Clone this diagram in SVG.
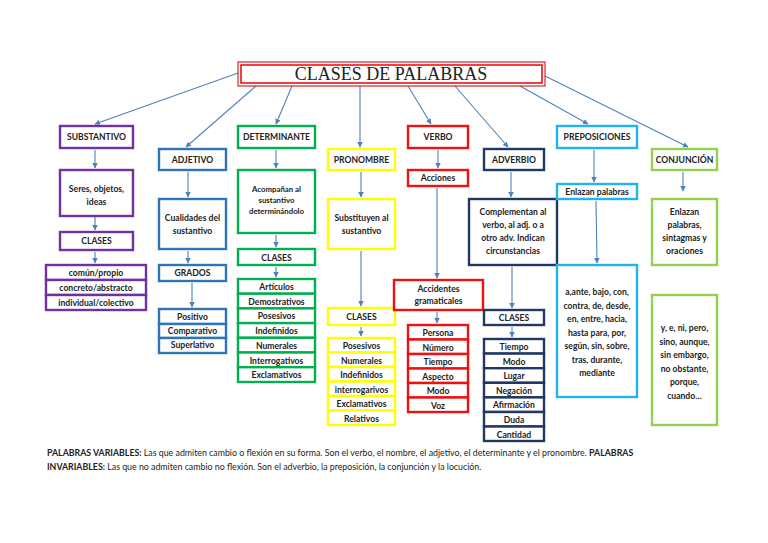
<svg xmlns="http://www.w3.org/2000/svg" width="768" height="543" viewBox="0 0 768 543">
<defs>
<marker id="ah" viewBox="0 0 10 10" refX="9" refY="5" markerWidth="5" markerHeight="5" orient="auto"><path d="M0,0L10,5L0,10z" fill="#4f81bd"/></marker>
<style>
text{font-family:Lato,"Liberation Sans",sans-serif;font-size:8.6px;font-weight:bold;fill:#222;text-anchor:middle}
.b{fill:#fff;stroke-width:2.4}
.pu{stroke:#7030a0}.bl{stroke:#2e75b6}.gr{stroke:#00b050}.ye{stroke:#ffff00}.re{stroke:#ee1111}.nv{stroke:#1f3864}.sk{stroke:#1fb4ee}.lg{stroke:#92d050}
#conn line{stroke:#4f81bd;stroke-width:1.1;marker-end:url(#ah)}
.n{font-weight:normal;text-anchor:start;font-size:8.8px}
</style>
</defs>
<rect width="768" height="543" fill="#fff"/>
<g id="conn">
<line x1="238" y1="73" x2="95" y2="124"/>
<line x1="256" y1="86" x2="186" y2="147"/>
<line x1="292" y1="86" x2="276" y2="124"/>
<line x1="360" y1="86" x2="360" y2="147"/>
<line x1="408" y1="86" x2="431" y2="124"/>
<line x1="455" y1="86" x2="508" y2="147"/>
<line x1="520" y1="86" x2="588" y2="124"/>
<line x1="545" y1="76" x2="688" y2="147"/>
<line x1="95" y1="150" x2="95" y2="168"/>
<line x1="95" y1="217" x2="95" y2="230"/>
<line x1="95" y1="252" x2="95" y2="263"/>
<line x1="188" y1="172" x2="188" y2="197"/>
<line x1="188" y1="251" x2="188" y2="263"/>
<line x1="192" y1="283" x2="192" y2="307"/>
<line x1="276" y1="150" x2="276" y2="168"/>
<line x1="276" y1="235" x2="276" y2="247"/>
<line x1="276" y1="267" x2="276" y2="277"/>
<line x1="361" y1="172" x2="361" y2="197"/>
<line x1="361" y1="251" x2="361" y2="306"/>
<line x1="361" y1="327" x2="361" y2="336"/>
<line x1="438" y1="150" x2="438" y2="168"/>
<line x1="437" y1="188" x2="437" y2="278"/>
<line x1="437" y1="312" x2="437" y2="323"/>
<line x1="511" y1="172" x2="511" y2="197"/>
<line x1="512" y1="267" x2="512" y2="308"/>
<line x1="512" y1="327" x2="512" y2="337"/>
<line x1="594" y1="150" x2="594" y2="182"/>
<line x1="596" y1="201" x2="597" y2="263"/>
<line x1="683" y1="172" x2="683" y2="191"/>
</g>
<g id="title"><rect x="238" y="62" width="307" height="24" fill="#fff" stroke="#c00000" stroke-width="1"/><rect x="241" y="65" width="301" height="18" fill="none" stroke="#e00" stroke-width="1.5"/><text x="391" y="80" style="font-family:'Liberation Serif',serif;font-size:18px;font-weight:normal">CLASES DE PALABRAS</text></g>

<g id="substantivo">
<rect class="b pu" x="60" y="126" width="73" height="22"/><text x="96.5" y="140">SUBSTANTIVO</text>
<rect class="b pu" x="60" y="170" width="73" height="46"/><text x="96.5" y="192">Seres, objetos,</text><text x="96.5" y="205">ideas</text>
<rect class="b pu" x="60" y="232" width="73" height="18"/><text x="96.5" y="244">CLASES</text>
<rect class="b pu" x="46" y="265" width="100" height="15"/><rect class="b pu" x="46" y="280" width="100" height="15"/><rect class="b pu" x="46" y="295" width="100" height="15"/>
<text x="96" y="276">común/propio</text><text x="96" y="291">concreto/abstracto</text><text x="96" y="306">individual/colectivo</text>
</g>

<g id="adjetivo">
<rect class="b bl" x="159" y="149" width="67" height="21"/><text x="192.5" y="163">ADJETIVO</text>
<rect class="b bl" x="159" y="199" width="67" height="50"/><text x="192.5" y="221">Cualidades del</text><text x="192.5" y="234">sustantivo</text>
<rect class="b bl" x="159" y="265" width="67" height="16"/><text x="192.5" y="276">GRADOS</text>
<rect class="b bl" x="159" y="309" width="67" height="15"/><rect class="b bl" x="159" y="324" width="67" height="14"/><rect class="b bl" x="159" y="338" width="67" height="15"/>
<text x="192.5" y="320">Positivo</text><text x="192.5" y="334">Comparativo</text><text x="192.5" y="348">Superlativo</text>
</g>

<g id="determinante">
<rect class="b gr" x="238" y="126" width="77" height="22"/><text x="276.5" y="140">DETERMINANTE</text>
<rect class="b gr" x="238" y="170" width="77" height="63"/><text x="276.5" y="192" style="font-size:7.8px">Acompañan al</text><text x="276.5" y="203" style="font-size:7.8px">sustantivo</text><text x="276.5" y="214" style="font-size:7.8px">determinándolo</text>
<rect class="b gr" x="238" y="249" width="77" height="16"/><text x="276.5" y="261">CLASES</text>
<rect class="b gr" x="238" y="279" width="77" height="14.7"/><rect class="b gr" x="238" y="293.7" width="77" height="14.7"/><rect class="b gr" x="238" y="308.4" width="77" height="14.7"/><rect class="b gr" x="238" y="323.1" width="77" height="14.7"/><rect class="b gr" x="238" y="337.8" width="77" height="14.7"/><rect class="b gr" x="238" y="352.5" width="77" height="14.7"/><rect class="b gr" x="238" y="367.2" width="77" height="14.8"/>
<text x="276.5" y="290">Artículos</text><text x="276.5" y="304.7">Demostrativos</text><text x="276.5" y="319.4">Posesivos</text><text x="276.5" y="334.1">Indefinidos</text><text x="276.5" y="348.8">Numerales</text><text x="276.5" y="363.5">Interrogativos</text><text x="276.5" y="378.2">Exclamativos</text>
</g>

<g id="pronombre">
<rect class="b ye" x="328" y="149" width="67" height="21"/><text x="361.5" y="163">PRONOMBRE</text>
<rect class="b ye" x="328" y="199" width="67" height="50"/><text x="361.5" y="221">Substituyen al</text><text x="361.5" y="234">sustantivo</text>
<rect class="b ye" x="328" y="308" width="67" height="17"/><text x="361.5" y="320">CLASES</text>
<rect class="b ye" x="328" y="338" width="67" height="14.5"/><rect class="b ye" x="328" y="352.5" width="67" height="14.5"/><rect class="b ye" x="328" y="367" width="67" height="14.5"/><rect class="b ye" x="328" y="381.5" width="67" height="14.5"/><rect class="b ye" x="328" y="396" width="67" height="14.5"/><rect class="b ye" x="328" y="410.5" width="67" height="14.5"/>
<text x="361.5" y="349">Posesivos</text><text x="361.5" y="363.5">Numerales</text><text x="361.5" y="378">Indefinidos</text><text x="361.5" y="392.5">interrogarivos</text><text x="361.5" y="407">Exclamativos</text><text x="361.5" y="421.5">Relativos</text>
</g>

<g id="verbo">
<rect class="b re" x="408" y="126" width="60" height="22"/><text x="438" y="140">VERBO</text>
<rect class="b re" x="408" y="170" width="60" height="16"/><text x="438" y="181">Acciones</text>
<rect class="b re" x="394" y="280" width="89" height="30"/><text x="438.5" y="292">Accidentes</text><text x="438.5" y="304">gramaticales</text>
<rect class="b re" x="408" y="325" width="60" height="14.5"/><rect class="b re" x="408" y="339.5" width="60" height="14.5"/><rect class="b re" x="408" y="354" width="60" height="14.5"/><rect class="b re" x="408" y="368.5" width="60" height="14.5"/><rect class="b re" x="408" y="383" width="60" height="14.5"/><rect class="b re" x="408" y="397.5" width="60" height="14.5"/>
<text x="438" y="336">Persona</text><text x="438" y="350.5">Número</text><text x="438" y="365">Tiempo</text><text x="438" y="379.5">Aspecto</text><text x="438" y="394">Modo</text><text x="438" y="408.5">Voz</text>
</g>

<g id="adverbio">
<rect class="b nv" x="484" y="149" width="60" height="21"/><text x="514" y="163">ADVERBIO</text>
<rect class="b nv" x="469" y="199" width="88" height="66"/><text x="513" y="215">Complementan al</text><text x="513" y="228">verbo, al adj.  o a</text><text x="513" y="241">otro adv. Indican</text><text x="513" y="254">circunstancias</text>
<rect class="b nv" x="484" y="310" width="60" height="15"/><text x="514" y="321">CLASES</text>
<rect class="b nv" x="484" y="339" width="60" height="14.6"/><rect class="b nv" x="484" y="353.6" width="60" height="14.6"/><rect class="b nv" x="484" y="368.2" width="60" height="14.6"/><rect class="b nv" x="484" y="382.8" width="60" height="14.6"/><rect class="b nv" x="484" y="397.4" width="60" height="14.6"/><rect class="b nv" x="484" y="412" width="60" height="14.5"/><rect class="b nv" x="484" y="426.5" width="60" height="14.5"/>
<text x="514" y="350">Tiempo</text><text x="514" y="364.6">Modo</text><text x="514" y="379.2">Lugar</text><text x="514" y="393.8">Negación</text><text x="514" y="408.4">Afirmación</text><text x="514" y="423">Duda</text><text x="514" y="437.5">Cantidad</text>
</g>

<g id="preposiciones">
<rect class="b sk" x="557" y="126" width="80" height="22"/><text x="597" y="140">PREPOSICIONES</text>
<rect class="b sk" x="557" y="184" width="80" height="15"/><text x="597" y="195">Enlazan palabras</text>
<rect class="b sk" x="557" y="265" width="80" height="132"/>
<text x="597" y="295">a,ante, bajo, con,</text><text x="597" y="308.5">contra, de, desde,</text><text x="597" y="322">en,  entre, hacia,</text><text x="597" y="335.5">hasta para, por,</text><text x="597" y="349">según, sin, sobre,</text><text x="597" y="362.5">tras, durante,</text><text x="597" y="376">mediante</text>
</g>

<g id="conjuncion">
<rect class="b lg" x="652" y="149" width="65" height="21"/><text x="684.5" y="163">CONJUNCIÓN</text>
<rect class="b lg" x="652" y="199" width="65" height="66"/><text x="684.5" y="215">Enlazan</text><text x="684.5" y="228">palabras,</text><text x="684.5" y="241">sintagmas y</text><text x="684.5" y="254">oraciones</text>
<rect class="b lg" x="652" y="295" width="65" height="130"/>
<text x="684.5" y="331">y, e, ni, pero,</text><text x="684.5" y="344.5">sino, aunque,</text><text x="684.5" y="358">sin embargo,</text><text x="684.5" y="371.5">no obstante,</text><text x="684.5" y="385">porque,</text><text x="684.5" y="398.5">cuando…</text>
</g>

<g id="nota">
<text class="n" x="47" y="456"><tspan font-weight="bold">PALABRAS VARIABLES:</tspan> Las que admiten cambio o flexión en su forma. Son el verbo, el nombre, el adjetivo, el determinante y el pronombre. <tspan font-weight="bold">PALABRAS</tspan></text>
<text class="n" x="47" y="470"><tspan font-weight="bold">INVARIABLES:</tspan> Las que no admiten cambio no flexión. Son el adverbio, la preposición, la conjunción y la locución.</text>
</g>
</svg>
